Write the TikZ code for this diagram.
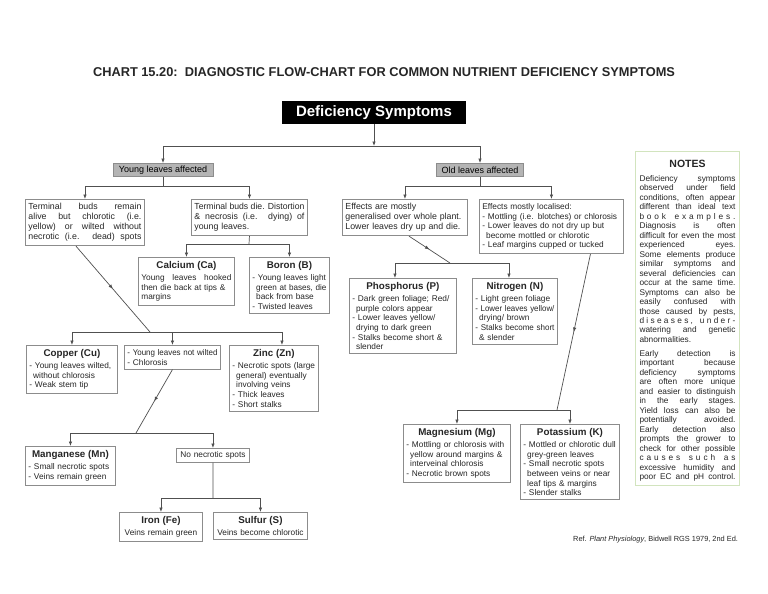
\documentclass[tikz,border=0pt]{standalone}
\usepackage{fontspec}
\usepackage{graphicx}
\setmainfont{Liberation Sans}
\usetikzlibrary{arrows.meta,decorations.markings}

\definecolor{boxgray}{HTML}{8C8C8C}
\definecolor{linegray}{HTML}{505050}
\definecolor{labelgray}{HTML}{B4B4B4}
\definecolor{notegreen}{HTML}{D2E4BE}
\definecolor{textgray}{HTML}{262626}

\newsavebox{\linebox}
% element title, centred on the first line of a box
\newcommand{\heading}[1]{\makebox[\linewidth]{\fontsize{9.8}{11}\selectfont\bfseries #1}\\[2.5pt]}
% justified line, squeezed when too long
\newcommand{\jl}[1]{{\spaceskip=0pt\xspaceskip=0pt\sbox{\linebox}{#1}\ifdim\wd\linebox>\linewidth\resizebox{\linewidth}{\height}{#1}\else\makebox[\linewidth][s]{#1}\fi}}
% plain line, squeezed when too long
\newcommand{\fit}[1]{\sbox{\linebox}{#1}\ifdim\wd\linebox>\linewidth\resizebox{\linewidth}{\height}{#1}\else\usebox{\linebox}\fi}
% indent of a continued bullet line
\newcommand{\cont}{\hspace*{0.45em}}

\begin{document}
\begin{tikzpicture}[x=1pt,y=-1pt,
	box/.style={draw=boxgray, line width=0.9pt, fill=white, text=textgray, inner xsep=3pt, inner ysep=4pt, anchor=north west, align=left, font=\fontsize{8.3}{9.6}\selectfont},
	para/.style={box, font=\fontsize{8.8}{10}\selectfont},
	leaf/.style={draw=boxgray, line width=0.9pt, fill=labelgray, inner sep=1pt, minimum height=13pt, font=\fontsize{9}{10}\selectfont},
	conn/.style={draw=linegray, line width=0.7pt},
	arr/.style={conn, -{Latex[length=4.5pt,width=3.5pt]}},
	midarr/.style={conn, postaction={decorate}, decoration={markings, mark=at position 0.5 with {\arrow{Latex[length=4.5pt,width=3.5pt]}}}}]

	\useasboundingbox[fill=white] (0,0) rectangle (768,594);

	\node[font=\fontsize{12.8}{15}\selectfont\bfseries, text=textgray] (title) at (384,72) {CHART 15.20:\ \ DIAGNOSTIC FLOW-CHART FOR COMMON NUTRIENT DEFICIENCY SYMPTOMS};

	\node[fill=black, text=white, minimum width=184pt, minimum height=23pt, inner sep=0pt, font=\fontsize{15}{17}\selectfont\bfseries] (def) at (374,112.5) {Deficiency Symptoms};

	\node[leaf, minimum width=100pt] (young) at (163,170) {Young leaves affected};
	\node[leaf, minimum width=87pt] (old) at (480,170) {Old leaves affected};

	% young leaves branch
	\node[para, text width=113pt] (alive) at (25,199) {\jl{Terminal buds remain}\\\jl{alive but chlorotic (i.e.}\\\jl{yellow) or wilted without}\\\jl{necrotic (i.e. dead) spots}};
	\node[para, text width=110pt] (die) at (191,199) {\jl{Terminal buds die. Distortion}\\\jl{\& necrosis (i.e. dying) of}\\young leaves.};

	\node[box, text width=90pt] (ca) at (138,257) {\heading{Calcium (Ca)}\jl{Young leaves hooked}\\then die back at tips \&\\margins};
	\node[box, text width=74pt] (b) at (249,257) {\heading{Boron (B)}- Young leaves light\\\fit{\cont green at bases, die}\\\cont back from base\\- Twisted leaves};

	\node[box, text width=85pt] (cu) at (26,345) {\heading{Copper (Cu)}- Young leaves wilted,\\\cont without chlorosis\\- Weak stem tip};
	\node[box, text width=90pt] (notwilt) at (124,345) {\fit{- Young leaves not wilted}\\- Chlorosis};
	\node[box, text width=83pt] (zn) at (229,345) {\heading{Zinc (Zn)}- Necrotic spots (large\\\cont general) eventually\\\cont involving veins\\- Thick leaves\\- Short stalks};

	\node[box, text width=84pt] (mn) at (25,446) {\heading{Manganese (Mn)}- Small necrotic spots\\- Veins remain green};
	\node[box, text width=67pt, align=center, inner ysep=3pt] (nonecro) at (176,448) {No necrotic spots};

	\node[box, text width=77pt, align=center] (fe) at (119,512) {\heading{Iron (Fe)}Veins remain green};
	\node[box, text width=88pt, align=center] (s) at (213,512) {\heading{Sulfur (S)}Veins become chlorotic};

	% old leaves branch
	\node[para, text width=119pt] (general) at (342,199) {Effects are mostly\\generalised over whole plant.\\Lower leaves dry up and die.};
	\node[box, text width=138pt] (local) at (479,199) {Effects mostly localised:\\- Mottling (i.e. blotches) or chlorosis\\- Lower leaves do not dry up but\\\cont become mottled or chlorotic\\- Leaf margins cupped or tucked};

	\node[box, text width=101pt] (p) at (349,278) {\heading{Phosphorus (P)}- Dark green foliage; Red/\\\cont purple colors appear\\- Lower leaves yellow/\\\cont drying to dark green\\- Stalks become short \&\\\cont slender};
	\node[box, text width=79pt] (n) at (472,278) {\heading{Nitrogen (N)}- Light green foliage\\\fit{- Lower leaves yellow/}\\\cont drying/ brown\\\fit{- Stalks become short}\\\cont \& slender};

	\node[box, text width=101pt] (mg) at (403,424) {\heading{Magnesium (Mg)}- Mottling or chlorosis with\\\cont yellow around margins \&\\\cont interveinal chlorosis\\- Necrotic brown spots};
	\node[box, text width=93pt] (k) at (520,424) {\heading{Potassium (K)}- Mottled or chlorotic dull\\\cont grey-green leaves\\- Small necrotic spots\\\cont between veins or near\\\cont leaf tips \& margins\\- Slender stalks};

	% notes
	\node[box, draw=notegreen, line width=1pt, inner sep=4pt, text width=96pt, font=\fontsize{8.3}{9.47}\selectfont] (notes) at (635,151) {\rule{0pt}{12pt}\makebox[\linewidth]{\fontsize{10.5}{12}\selectfont\bfseries NOTES}\\[4.5pt]
		\jl{Deficiency symptoms}\\\jl{observed under field}\\\jl{conditions, often appear}\\\jl{different than ideal text}\\\jl{b o o k\ \ \ e x a m p l e s .}\\\jl{Diagnosis is often}\\\jl{difficult for even the most}\\\jl{experienced eyes.}\\\jl{Some elements produce}\\\jl{similar symptoms and}\\\jl{several deficiencies can}\\\jl{occur at the same time.}\\\jl{Symptoms can also be}\\\jl{easily confused with}\\\jl{those caused by pests,}\\\jl{d i s e a s e s ,\ \ \ u n d e r -}\\\jl{watering and genetic}\\abnormalities.\\[4.5pt]
		\jl{Early detection is}\\\jl{important because}\\\jl{deficiency symptoms}\\\jl{are often more unique}\\\jl{and easier to distinguish}\\\jl{in the early stages.}\\\jl{Yield loss can also be}\\\jl{potentially avoided.}\\\jl{Early detection also}\\\jl{prompts the grower to}\\\jl{check for other possible}\\\jl{c a u s e s\ \ \ s u c h\ \ \ a s}\\\jl{excessive humidity and}\\\jl{poor EC and pH control.}};

	\node[font=\fontsize{7.4}{9}\selectfont, text=textgray, anchor=west, inner sep=0pt] (ref) at (573,540) {Ref. \textit{Plant Physiology}, Bidwell RGS 1979, 2nd Ed.};

	% junction points
	\coordinate (top) at (374,146);
	\coordinate (yl) at (163,186);
	\coordinate (ol) at (480,186);
	\coordinate (dj) at (249,244);
	\coordinate (aj) at (150,332);
	\coordinate (wj) at (136,433);
	\coordinate (nj) at (213,498);
	\coordinate (gj) at (450,263);
	\coordinate (lj) at (557,410);

	\draw[arr] (def.south) -- (top);
	\draw[arr] (top) -| (young.north);
	\draw[arr] (top) -| (old.north);

	\draw[conn] (young.south) -- (yl);
	\draw[arr] (yl) -| (alive.north);
	\draw[arr] (yl) -| (die.north);

	\draw[conn] (die.south) -- (dj);
	\draw[arr] (dj) -| (ca.north);
	\draw[arr] (dj) -| (b.north);

	\draw[midarr] ([xshift=-9pt]alive.south) -- (aj);
	\draw[arr] (aj) -| (cu.north);
	\draw[arr] (aj) -| (notwilt.north);
	\draw[arr] (aj) -| ([xshift=8pt]zn.north);

	\draw[midarr] (notwilt.south) -- (wj);
	\draw[arr] (wj) -| (mn.north);
	\draw[arr] (wj) -| (nonecro.north);

	\draw[conn] (nonecro.south) -- (nj);
	\draw[arr] (nj) -| (fe.north);
	\draw[arr] (nj) -| (s.north);

	\draw[conn] (old.south) -- (ol);
	\draw[arr] (ol) -| (general.north);
	\draw[arr] (ol) -| (local.north);

	\draw[midarr] ([xshift=4pt]general.south) -- (gj);
	\draw[arr] (gj) -| ([xshift=-8pt]p.north);
	\draw[arr] (gj) -| ([xshift=-6pt]n.north);

	\draw[midarr] ([xshift=39pt]local.south) -- (lj);
	\draw[arr] (lj) -| (mg.north);
	\draw[arr] (lj) -| (k.north);
\end{tikzpicture}
\end{document}
